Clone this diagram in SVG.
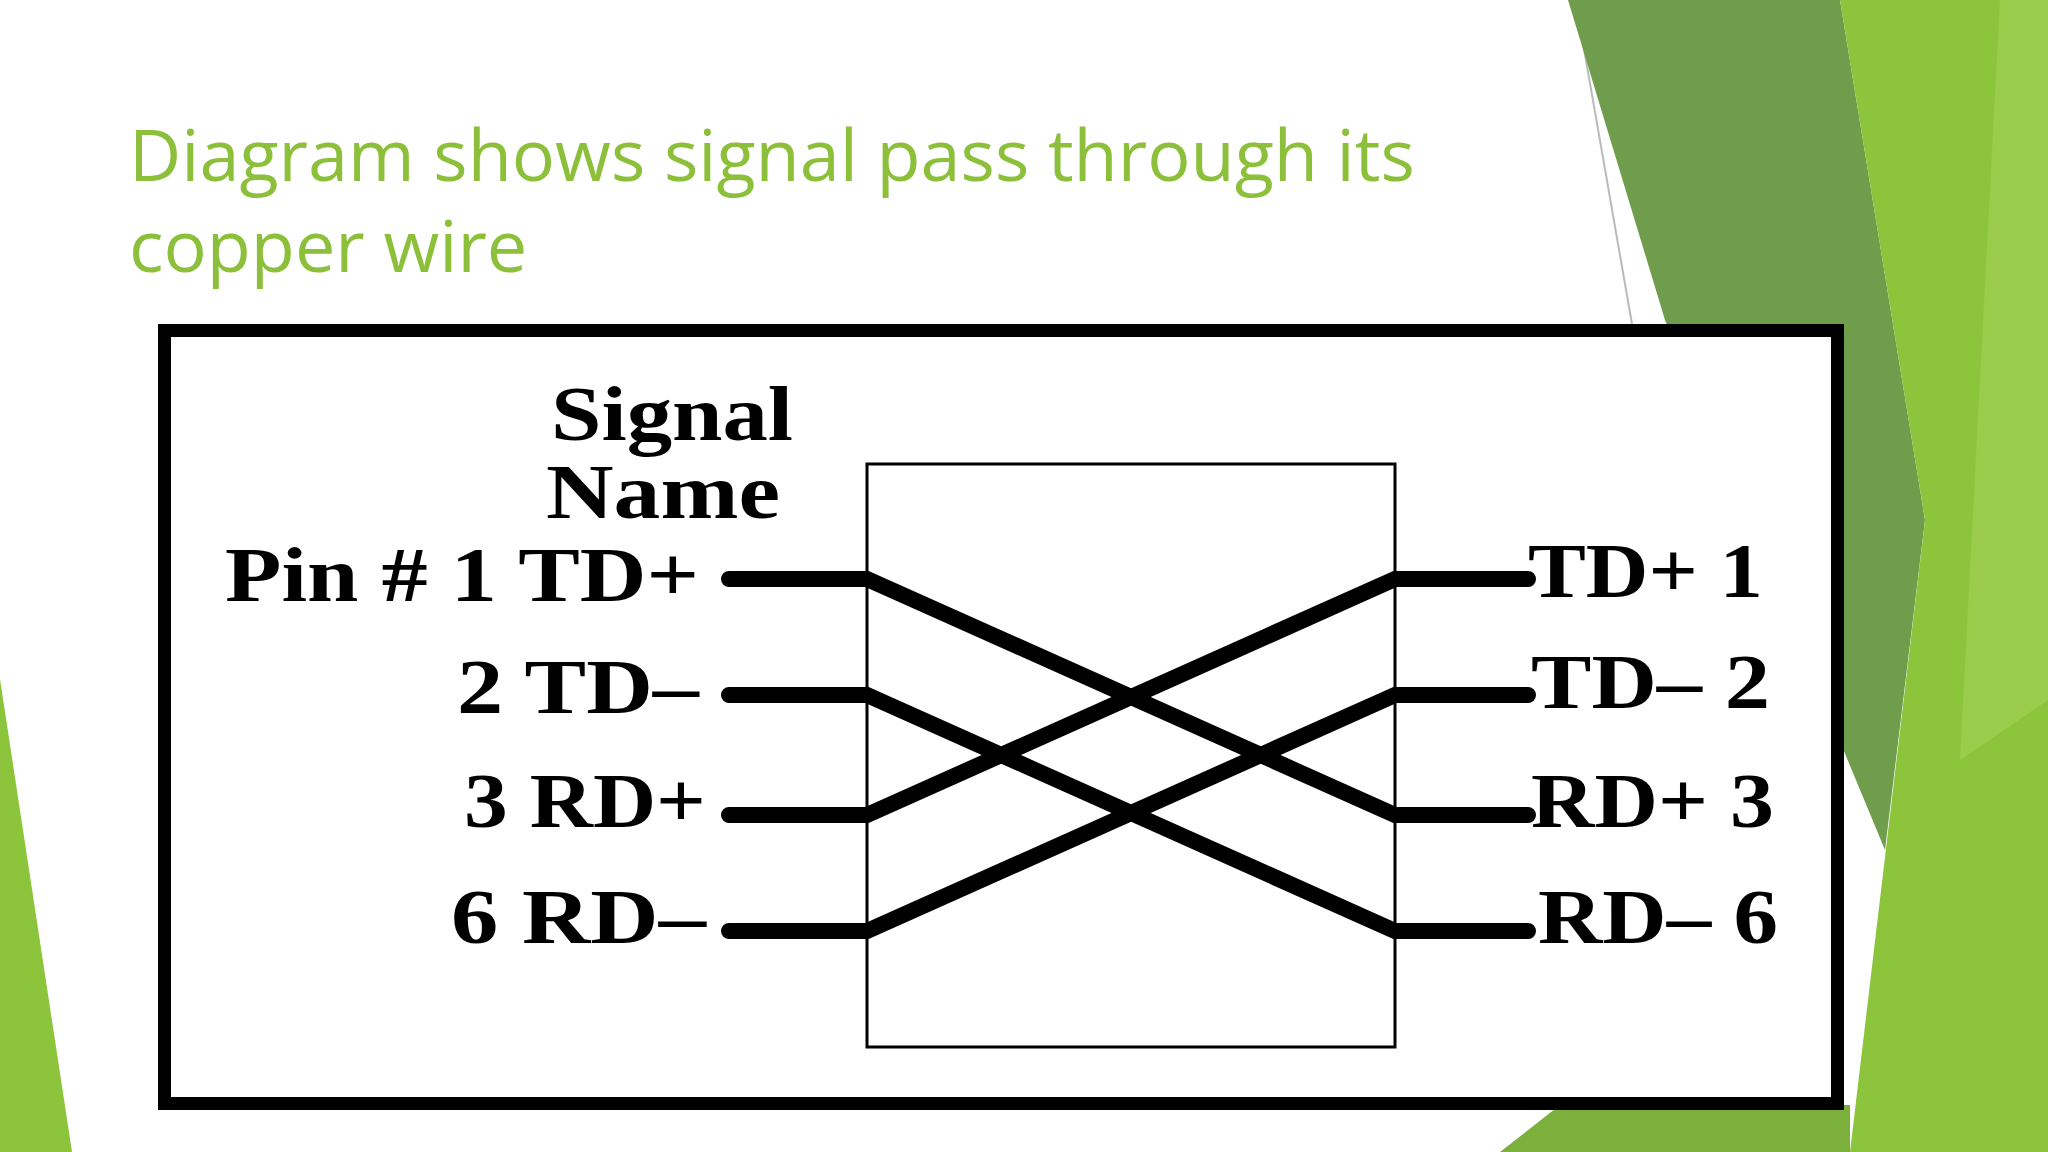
<svg xmlns="http://www.w3.org/2000/svg" width="2048" height="1152" viewBox="0 0 2048 1152">
<style>
.t{font-family:"Liberation Serif",serif;font-weight:bold;font-size:78px;fill:#000}
.w{stroke:#000;stroke-width:16;stroke-linecap:round;fill:none}
</style>
<rect width="2048" height="1152" fill="#fff"/>
<g id="decor">
<line x1="1580" y1="26" x2="1632" y2="324" stroke="#bbb" stroke-width="2"/>
<polygon points="1568,0 1840,0 1925,520 1885,850 1665,320" fill="#6f9d4c"/>
<polygon points="1840,0 2048,0 2048,1152 1850,1152 1925,520" fill="#8cc43c"/>
<polygon points="2000,0 2048,0 2048,700 1960,760" fill="#9ccc4c"/>
<polygon points="0,679 0,1152 72,1152" fill="#8cc43c"/>
<polygon points="1500,1152 1560,1105 1850,1105 1850,1152" fill="#7bb03c"/>
</g>
<g id="title" font-family="'Open Sans','Noto Sans',sans-serif" font-size="72" fill="#8dc03a">
<text x="129" y="181">Diagram shows signal pass through its</text>
<text x="129" y="272">copper wire</text>
</g>
<g id="frame"><rect x="164.5" y="330.5" width="1673" height="773" fill="#fff" stroke="#000" stroke-width="13"/></g>
<g id="box"><rect x="867" y="464" width="528" height="583" fill="none" stroke="#000" stroke-width="3"/></g>
<g id="connectors">
<path class="w" d="M729,579H867L1395,815H1528"/>
<path class="w" d="M729,695H867L1395,931H1528"/>
<path class="w" d="M729,815H867L1395,579H1528"/>
<path class="w" d="M729,931H867L1395,695H1528"/>
</g>
<g id="labels">
<text class="t" x="551" y="440" textLength="242" lengthAdjust="spacingAndGlyphs">Signal</text>
<text class="t" x="546" y="518" textLength="234" lengthAdjust="spacingAndGlyphs">Name</text>
<text class="t" x="225" y="601" textLength="474" lengthAdjust="spacingAndGlyphs">Pin # 1 TD+</text>
<text class="t" x="457" y="713" textLength="242" lengthAdjust="spacingAndGlyphs">2 TD–</text>
<text class="t" x="464" y="827" textLength="242" lengthAdjust="spacingAndGlyphs">3 RD+</text>
<text class="t" x="451" y="943" textLength="255" lengthAdjust="spacingAndGlyphs">6 RD–</text>
<text class="t" x="1528" y="597" textLength="235" lengthAdjust="spacingAndGlyphs">TD+ 1</text>
<text class="t" x="1531" y="708" textLength="239" lengthAdjust="spacingAndGlyphs">TD– 2</text>
<text class="t" x="1531" y="827" textLength="243" lengthAdjust="spacingAndGlyphs">RD+ 3</text>
<text class="t" x="1538" y="943" textLength="240" lengthAdjust="spacingAndGlyphs">RD– 6</text>
</g>
</svg>
